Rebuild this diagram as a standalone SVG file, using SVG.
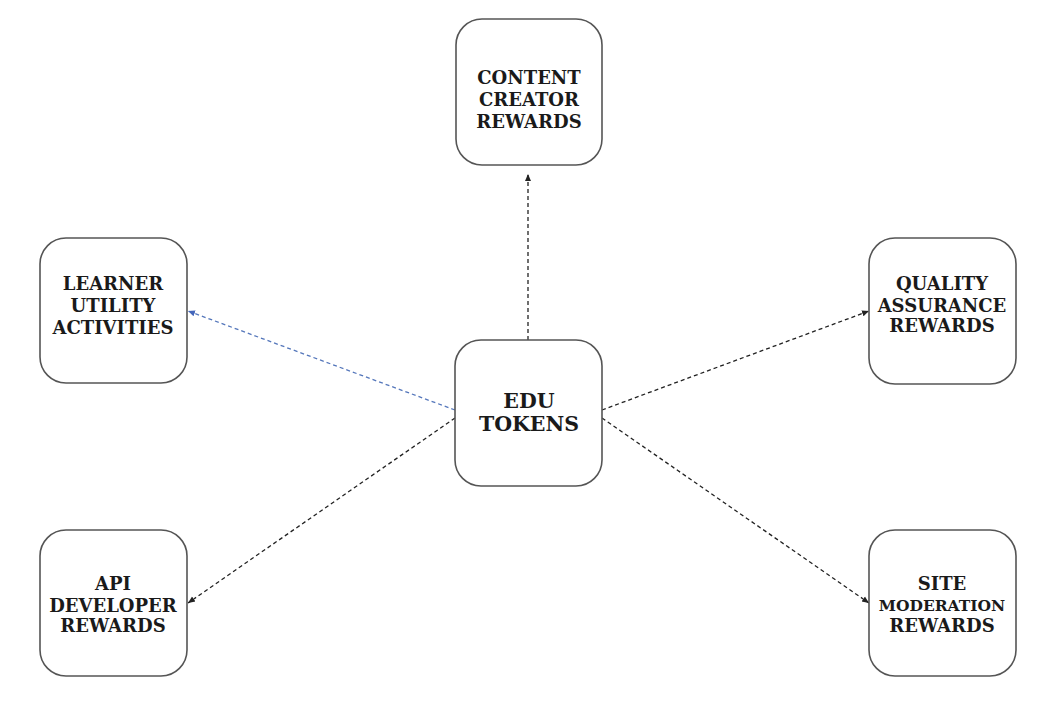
<svg xmlns="http://www.w3.org/2000/svg" width="1059" height="706" viewBox="0 0 1059 706">
<style>
.box{fill:#fff;stroke:#555;stroke-width:1.6}
.t{font-family:"DejaVu Serif","Liberation Serif",serif;font-weight:bold;font-size:18px;fill:#1a1a1a;text-anchor:middle}
.big{font-size:20.5px}
.sm{font-size:15.5px}
.c{fill:none;stroke:#222;stroke-width:1.3;stroke-dasharray:4 3}
.cb{fill:none;stroke:#5577bb;stroke-width:1.3;stroke-dasharray:4 3}
</style>
<defs>
<marker id="ah" markerWidth="8" markerHeight="8" refX="7" refY="4" orient="auto" markerUnits="userSpaceOnUse"><path d="M0,1 L7,4 L0,7 Z" fill="#222"/></marker>
<marker id="ahb" markerWidth="8" markerHeight="8" refX="7" refY="4" orient="auto" markerUnits="userSpaceOnUse"><path d="M0,1 L7,4 L0,7 Z" fill="#4466bb"/></marker>
</defs>
<rect width="1059" height="706" fill="#fff"/>
<g id="connectors">
<line class="c" x1="528" y1="340" x2="528" y2="174" marker-end="url(#ah)"/>
<line class="cb" x1="455" y1="410" x2="188" y2="311" marker-end="url(#ahb)"/>
<line class="c" x1="602" y1="410" x2="869" y2="311" marker-end="url(#ah)"/>
<line class="c" x1="455" y1="418" x2="188" y2="603" marker-end="url(#ah)"/>
<line class="c" x1="602" y1="418" x2="869" y2="603" marker-end="url(#ah)"/>
</g>
<g id="content">
<rect class="box" x="456" y="19" width="146" height="146" rx="26"/>
<text class="t" x="529" y="84">CONTENT</text>
<text class="t" x="529" y="106">CREATOR</text>
<text class="t" x="529" y="128">REWARDS</text>
</g>
<g id="edu">
<rect class="box" x="455" y="340" width="147" height="146" rx="26"/>
<text class="t big" x="529" y="408">EDU</text>
<text class="t big" x="529" y="431">TOKENS</text>
</g>
<g id="learner">
<rect class="box" x="40" y="238" width="147" height="145" rx="26"/>
<text class="t" x="113" y="290">LEARNER</text>
<text class="t" x="113" y="312">UTILITY</text>
<text class="t" x="113" y="334">ACTIVITIES</text>
</g>
<g id="quality">
<rect class="box" x="869" y="238" width="147" height="146" rx="26"/>
<text class="t" x="942" y="290">QUALITY</text>
<text class="t" x="942" y="312">ASSURANCE</text>
<text class="t" x="942" y="332">REWARDS</text>
</g>
<g id="api">
<rect class="box" x="40" y="530" width="147" height="146" rx="26"/>
<text class="t" x="113" y="590">API</text>
<text class="t" x="113" y="612">DEVELOPER</text>
<text class="t" x="113" y="632">REWARDS</text>
</g>
<g id="site">
<rect class="box" x="869" y="530" width="147" height="146" rx="26"/>
<text class="t" x="942" y="590">SITE</text>
<text class="t sm" x="942" y="611">MODERATION</text>
<text class="t" x="942" y="632">REWARDS</text>
</g>
</svg>
